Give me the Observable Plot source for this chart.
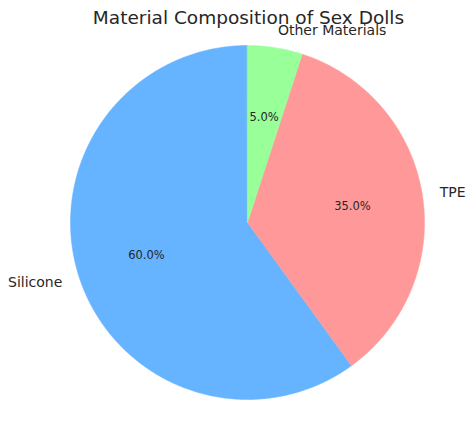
<!DOCTYPE html>
<html><head><meta charset="utf-8">
<script src="https://cdn.jsdelivr.net/npm/d3@7"></script>
<script src="https://cdn.jsdelivr.net/npm/@observablehq/plot@0.6"></script>
<style>body{margin:0;background:#fff}</style>
</head><body><div id="chart"></div>
<script>
const categories = ["Silicone", "TPE", "Other Materials"];
const shares = [60, 35, 5];
const colors = ["#66b3ff", "#ff9999", "#99ff99"];
const title = "Material Composition of Sex Dolls";

const data = categories.map((c, i) => ({label: c, value: shares[i]}));
const total = d3.sum(shares);
// matplotlib-like: start at 90°, counterclockwise
let start = 90;
const slices = data.map(d => {
  const sweep = d.value / total * 360;
  const s = {label: d.label, value: d.value, a0: start, a1: start + sweep, mid: start + sweep / 2};
  start += sweep;
  return s;
});
const rad = a => a * Math.PI / 180;
const poly = [];
for (const s of slices) {
  poly.push({label: s.label, x: 0, y: 0});
  const n = Math.ceil((s.a1 - s.a0) / 0.5);
  for (let k = 0; k <= n; k++) {
    const a = rad(s.a0 + (s.a1 - s.a0) * k / n);
    poly.push({label: s.label, x: Math.cos(a), y: Math.sin(a)});
  }
}
const labels = slices.map(s => ({
  label: s.label,
  x: 1.1 * Math.cos(rad(s.mid)), y: 1.1 * Math.sin(rad(s.mid)),
  anchor: Math.cos(rad(s.mid)) >= 0 ? "start" : "end"
}));
const pcts = slices.map(s => ({
  text: (s.value / total * 100).toFixed(1) + "%",
  x: 0.6 * Math.cos(rad(s.mid)), y: 0.6 * Math.sin(rad(s.mid))
}));

const R = 177, cx = 247, cy = 222, W = 474, H = 424;
const chart = Plot.plot({
  width: W, height: H, margin: 0,
  style: {fontFamily: "DejaVu Sans", background: "#fff"},
  x: {domain: [-cx / R, (W - cx) / R], range: [0, W], axis: null},
  y: {domain: [-(H - cy) / R, cy / R], range: [H, 0], axis: null},
  color: {domain: categories, range: colors},
  marks: [
    Plot.line(poly, {x: "x", y: "y", z: "label", fill: "label", stroke: "label", strokeWidth: 0.5, curve: "linear-closed"}),
    Plot.text(labels.filter(d => d.anchor === "start"), {x: "x", y: "y", text: "label", textAnchor: "start", fontSize: 14, fill: "#262626"}),
    Plot.text(labels.filter(d => d.anchor === "end"), {x: "x", y: "y", text: "label", textAnchor: "end", fontSize: 14, fill: "#262626"}),
    Plot.text(pcts, {x: "x", y: "y", text: "text", fontSize: 11.5, fill: "#262626"}),
    Plot.text([title], {frameAnchor: "top", dy: 18, dx: 11, text: d => d, fontSize: 18.5, fill: "#262626", lineAnchor: "middle"})
  ]
});
document.getElementById("chart").appendChild(chart);
</script>
</body></html>
